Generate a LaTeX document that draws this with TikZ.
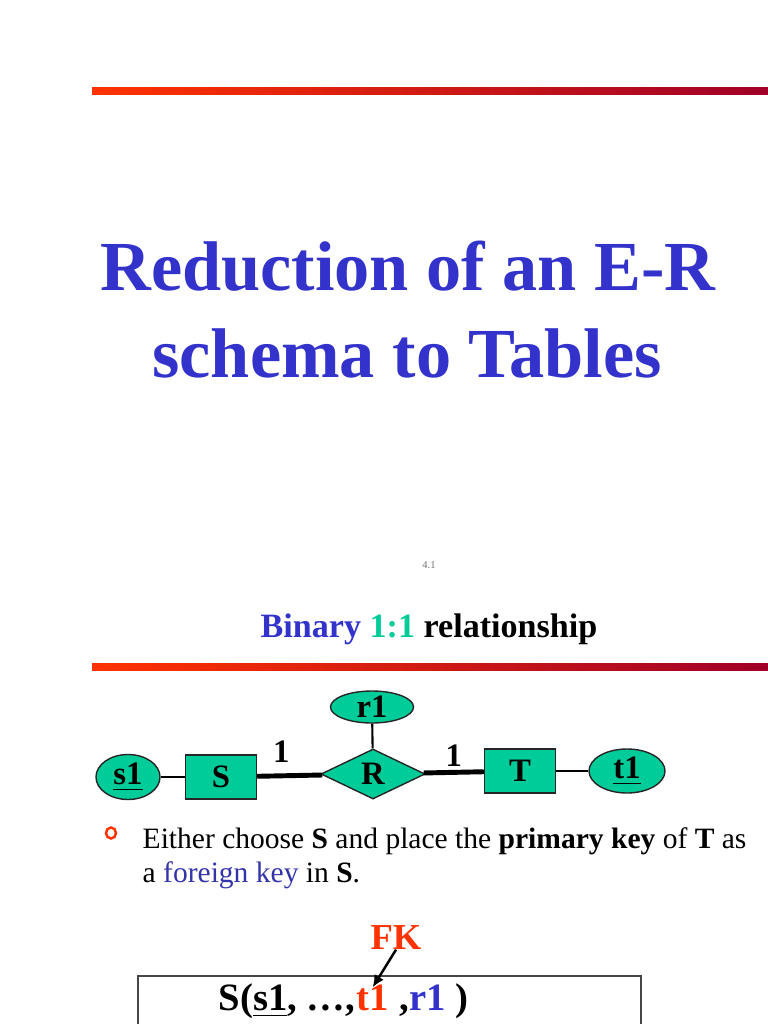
\documentclass[tikz,border=0pt]{standalone}
\usepackage{fontspec}
\setmainfont{Liberation Serif}
\usetikzlibrary{arrows.meta,shapes.geometric}
\definecolor{erfill}{RGB}{0,204,153}
\definecolor{titleblue}{RGB}{51,51,204}
\definecolor{keyblue}{RGB}{51,51,170}
\definecolor{fkred}{RGB}{255,51,0}
\definecolor{barleft}{RGB}{255,51,0}
\definecolor{barright}{RGB}{160,0,40}
\definecolor{boxgray}{RGB}{70,70,70}
\tikzset{
  erlabel/.style={font=\fontsize{9.3}{11}\selectfont\bfseries, text=black},
  entity/.style={erlabel, draw=black!85, fill=erfill, rectangle, inner sep=0pt,
    minimum width=0.71cm, minimum height=0.44cm},
  attrib/.style={erlabel, draw=black!85, fill=erfill, ellipse, inner sep=0pt,
    minimum height=0.44cm},
  relship/.style={erlabel, draw=black!85, fill=erfill, diamond, aspect=2, inner sep=0pt,
    minimum width=1.04cm, minimum height=0.5cm},
  thin link/.style={line width=0.6pt},
  heavy link/.style={line width=1.4pt},
  fkarrow/.style={-{Latex[length=1.2mm,width=1.1mm]}, line width=0.7pt},
  bar/.style={left color=barleft, right color=barright, draw=none},
  bullettext/.style={anchor=base west, inner sep=0pt, font=\fontsize{8.4}{10}\selectfont}
}

\begin{document}
\begin{tikzpicture}[x=0.01cm, y=-0.01cm]
  \useasboundingbox (0,0) rectangle (768,1024);

  \shade[bar] (92,87) rectangle (768,94);
  \node[anchor=base, text=titleblue, font=\fontsize{20}{24}\selectfont\bfseries] (titleA) at (408,290) {Reduction of an E-R};
  \node[anchor=base, text=titleblue, font=\fontsize{20}{24}\selectfont\bfseries] (titleB) at (407,377) {schema to Tables};
  \node[text=black!55, font=\fontsize{3}{4}\selectfont] (slideno) at (429,565) {4.1};

  \node[anchor=base, font=\fontsize{9.7}{12}\selectfont\bfseries] (subtitle) at (429,637)
    {\textcolor{titleblue}{Binary} \textcolor{erfill}{1:1} relationship};
  \shade[bar] (92,663) rectangle (768,670);

  \node[attrib, minimum width=0.64cm, minimum height=0.45cm] (s1) at (128,777) {\underline{s1}};
  \node[entity] (S) at (221,777) {S};
  \node[relship] (R) at (373,774) {R};
  \node[attrib, minimum width=0.83cm, minimum height=0.32cm] (r1) at (372,707) {r1};
  \node[entity] (T) at (520,771) {T};
  \node[attrib, minimum width=0.76cm] (t1) at (627,771) {\underline{t1}};

  \draw[thin link] (s1) -- (S);
  \draw[heavy link] (S) -- node[erlabel, pos=0.37, above, inner sep=3pt] {1} (R);
  \draw[heavy link] (R) -- node[erlabel, pos=0.5, above, inner sep=1pt] {1} (T);
  \draw[thin link] (T) -- (t1);
  \draw[thin link] (r1) -- (R);

  \draw[fkred, line width=0.7pt] (111,833) ellipse (5 and 5.5);
  \node[bullettext] (lineA) at (142,848)
    {Either choose \textbf{S} and place the \textbf{primary key} of \textbf{T} as};
  \node[bullettext] (lineB) at (142,882)
    {a \textcolor{keyblue}{foreign key} in \textbf{S}.};

  \node[anchor=base, text=fkred, font=\fontsize{10.4}{12}\selectfont\bfseries, inner sep=0pt] (fk) at (396,949) {FK};
  \node[draw=boxgray, line width=0.6pt, anchor=north west, minimum width=5.03cm, minimum height=0.8cm] (relbox) at (137,975) {};
  \node[anchor=base west, inner sep=0pt, font=\fontsize{11}{13}\selectfont\bfseries] (relhead) at (218,1010) {S(\underline{s1}, …,};
  \node[anchor=base west, inner sep=0pt, text=fkred, font=\fontsize{11}{13}\selectfont\bfseries] (fkcol) at (relhead.base east) {t1};
  \node[anchor=base west, inner sep=0pt, font=\fontsize{11}{13}\selectfont\bfseries] (reltail) at (fkcol.base east) {\ ,\textcolor{titleblue}{r1} )};
  \draw[fkarrow] (fk.south) -- ([yshift=-1pt]fkcol.north);
\end{tikzpicture}
\end{document}
